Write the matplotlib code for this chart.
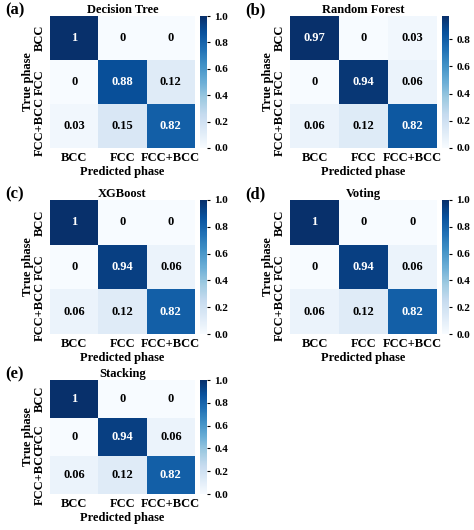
import matplotlib
matplotlib.use("Agg")
import matplotlib.pyplot as plt
import numpy as np

plt.rcParams['font.family'] = ['Liberation Serif', 'DejaVu Serif']
plt.rcParams['font.weight'] = 'bold'

classes = ["BCC", "FCC", "FCC+BCC"]
titles = ["Decision Tree", "Random Forest", "XGBoost", "Voting", "Stacking"]
letters = ["(a)", "(b)", "(c)", "(d)", "(e)"]
dt = [[1, 0, 0], [0, 0.88, 0.12], [0.03, 0.15, 0.82]]
rf = [[0.97, 0, 0.03], [0, 0.94, 0.06], [0.06, 0.12, 0.82]]
xgb = [[1, 0, 0], [0, 0.94, 0.06], [0.06, 0.12, 0.82]]
vote = [[1, 0, 0], [0, 0.94, 0.06], [0.06, 0.12, 0.82]]
stack = [[1, 0, 0], [0, 0.94, 0.06], [0.06, 0.12, 0.82]]
mats = [dt, rf, xgb, vote, stack]

W, H = 474, 530
fig = plt.figure(figsize=(W/100, H/100), dpi=100)

cols = [(50, 195), (290, 437)]
rows = [(16, 148), (200, 334), (380, 494)]
letter_x = [5, 245]

def fmt(v):
    return "1" if v == 1 else ("0" if v == 0 else f"{v:.2f}")

for i, m in enumerate(mats):
    m = np.array(m, dtype=float)
    l, r = cols[i % 2]
    t, b = rows[i // 2]
    ax = fig.add_axes([l/W, 1-b/H, (r-l)/W, (b-t)/H])
    vmax = m.max()
    im = ax.imshow(m, cmap="Blues", vmin=0, vmax=vmax, aspect="auto")
    for y in range(3):
        for x in range(3):
            v = m[y, x]
            ax.text(x, y, fmt(v), ha="center", va="center", fontsize=9,
                    fontweight="bold", color="white" if v > 0.5*vmax else "black")
    ax.set_xticks(range(3)); ax.set_xticklabels(classes, fontsize=9)
    ax.set_yticks(range(3)); ax.set_yticklabels(classes, fontsize=9, rotation=90, va="center")
    ax.tick_params(length=0, pad=3)
    for s in ax.spines.values():
        s.set_visible(False)
    ax.set_xlabel("Predicted phase", fontsize=9, fontweight="bold", labelpad=1)
    ax.set_ylabel("True phase", fontsize=9, fontweight="bold", labelpad=0)
    ax.set_title(titles[i], fontsize=9, fontweight="bold", pad=2)
    fig.text(letter_x[i % 2]/W, 1-(t+2)/H, letters[i], fontsize=12,
             fontweight="bold", va="bottom", ha="left")
    cax = fig.add_axes([(r+5)/W, 1-b/H, 7/W, (b-t)/H])
    cb = fig.colorbar(im, cax=cax)
    cb.outline.set_visible(False)
    cb.set_ticks([0, 0.2, 0.4, 0.6, 0.8] + ([1.0] if vmax >= 1 else []))
    cb.ax.tick_params(labelsize=8, length=2)

fig.savefig("out.png", dpi=100)
